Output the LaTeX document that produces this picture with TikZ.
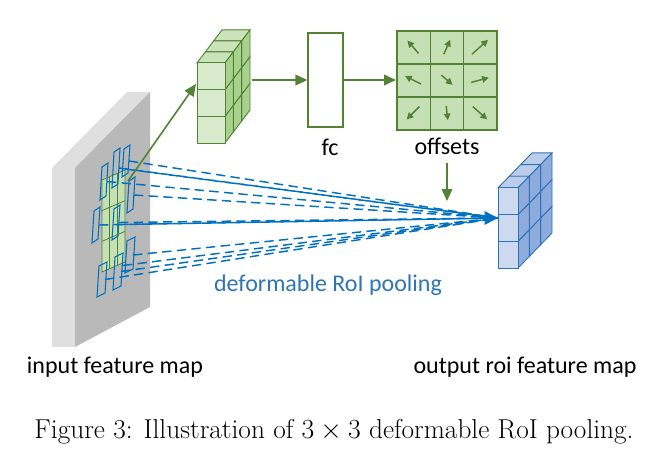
\documentclass[tikz,border=0pt]{standalone}
\usepackage{fontspec}
\setmainfont{Carlito}
\newfontfamily\capfont{Latin Modern Roman}
\usetikzlibrary{arrows.meta}
\definecolor{gline}{RGB}{84,130,53}
\definecolor{gfill}{RGB}{197,224,180}
\definecolor{gside}{RGB}{169,209,142}
\definecolor{bline}{RGB}{46,117,182}
\definecolor{bfill}{RGB}{180,199,231}
\definecolor{bside}{RGB}{143,170,220}
\definecolor{bdash}{RGB}{0,112,192}
\tikzset{
  garrow/.style={draw=gline, line width=1.2pt, -{Triangle[length=9pt,width=8pt]}},
  brect/.style={draw=bdash, line width=0.8pt},
  bdashed/.style={draw=bdash, line width=1.1pt, dash pattern=on 7pt off 4pt},
  lab/.style={font=\fontsize{18}{21}\selectfont}
}
% one column, three rows, three deep: front lower-left (#1,#2), cell w #3 h #4, depth dx #5 dy #6
\newcommand{\blockcube}[8]{%
  \foreach \k in {2,1,0}
    \filldraw[draw=#7, fill=#8!60!white, line width=0.7pt]
      ({#1+\k*#5/3},{#2-3*#4+\k*#6/3}) -- ++(#3,0) -- ++({#5/3},{#6/3}) -- ++(-#3,0) -- cycle;
  \foreach \j in {0,1,2} {
    \foreach \k in {2,1,0}
      \filldraw[draw=#7, fill=#8, line width=0.7pt]
        ({#1+#3+\k*#5/3},{#2-\j*#4+\k*#6/3}) -- ++(0,-#4) -- ++({#5/3},{#6/3}) -- ++(0,#4) -- cycle;
  }
  \foreach \j in {0,1,2}
    \filldraw[draw=#7, fill=#8!45!white, line width=0.7pt]
      (#1,{#2-\j*#4}) rectangle ++(#3,-#4);
}
\begin{document}
\begin{tikzpicture}[x=0.75pt,y=-0.75pt]
\useasboundingbox (0,0) rectangle (652,461);

% input feature map slab
\fill[gray!25] (52,168) -- (127,92) -- (150,92) -- (75,168) -- cycle;
\fill[gray!25] (52,168) rectangle (75,347);
\fill[gray!55] (75,168) -- (150,92) -- (150,307) -- (75,347) -- cycle;

% green patch on the map
\filldraw[draw=gline, fill=gfill, line width=0.6pt] (102,180) -- (125,170) -- (125,262) -- (102,272) -- cycle;
\foreach \t in {0.333,0.667} {
  \draw[gline, line width=0.6pt] ({102+23*\t},{180-10*\t}) -- ({102+23*\t},{272-10*\t});
  \draw[gline, line width=0.6pt] (102,{180+92*\t}) -- (125,{170+92*\t});
}

% deformed sampling bins
\foreach \n/\xa/\ya/\xb/\yb in {r1/100/163/108/200, r2/112/148/120/188, r3/122/145/130/177,
  r4/92/207/100/243, r5/112/205/120/240, r6/127/177/135/213,
  r7/97/262/107/297, r8/113/253/123/290, r9/125/237/135/273} {
  \draw[brect] (\xa,\yb) -- (\xa+2,\ya+4) -- (\xb,\ya) -- (\xb-2,\yb-4) -- cycle;
  \coordinate (\n) at ({(\xa+\xb)/2+3},{(\ya+\yb)/2});
}

% green feature cube
\blockcube{197}{143}{28}{26.7}{25}{-33}{gline}{gside}
% fc
\node[draw=gline, line width=1pt, minimum width=35*0.75pt, minimum height=94*0.75pt, inner sep=0] (fc) at (325.5,80) {};
\node[lab] (fclab) at (330,147) {fc};
% offsets grid
\fill[gfill] (397,31) rectangle (497,130);
\draw[gline, line width=1.2pt] (397,31) rectangle (497,130);
\foreach \t in {1,2} {
  \draw[gline, line width=1.2pt] ({397+33.3*\t},31) -- ({397+33.3*\t},130);
  \draw[gline, line width=1.2pt] (397,{31+33*\t}) -- (497,{31+33*\t});
}
\coordinate (offin) at (396,80);
\foreach \cx/\cy/\dx/\dy in {413/47/-7/-8, 447/47/4/-9, 480/47/10/-9,
  413/80/-10/-5, 447/80/7/6, 480/80/11/-3,
  413/113/-8/8, 447/113/1/9, 480/113/9/8}
  \draw[gline, line width=1.1pt, -{Triangle[length=5pt,width=5pt]}] ({\cx-\dx*0.8},{\cy-\dy*0.8}) -- ({\cx+\dx*0.8},{\cy+\dy*0.8});
\node[lab] (offlab) at (447,146) {offsets};

% blue output cube
\blockcube{498}{268}{20}{26.7}{34}{-35}{bline}{bside}
\coordinate (tip) at (498,218);
\coordinate (outtop) at (447,201);

% dashed projections
\foreach \n in {r1,r2,r3,r4,r5,r6,r7,r8,r9}
  \draw[bdashed] (\n) -- (tip);
\draw[bdashed] (r3) ++(-4,8) -- (tip);
\draw[bdashed] (r8) ++(2,-6) -- (tip);
\draw[bdashed] (r5) ++(0,2) -- (tip);
\draw[bdash, line width=1.1pt, -{Triangle[length=10pt,width=10pt]}] (480,218) -- (tip);

% green arrows
\coordinate (mapout) at (128,181);
\coordinate (cubein) at (196,84);
\coordinate (cubeout) at (252,80);
\draw[garrow] (mapout) -- (cubein);
\draw[garrow] (cubeout) -- (fc.west);
\draw[garrow] (fc.east) -- (offin);
\draw[garrow] (offlab.south) ++(0,4) -- (outtop);

% labels
\node[lab, text=bline] (dlab) at (328,285) {deformable RoI pooling};
\node[lab] (inlab) at (115,367) {input feature map};
\node[lab] (outlab) at (525,367) {output roi feature map};
\node[font=\capfont\fontsize{20.5}{23}\selectfont] (cap) at (334,432) {Figure 3: Illustration of $3\times3$ deformable RoI pooling.};
\end{tikzpicture}
\end{document}
